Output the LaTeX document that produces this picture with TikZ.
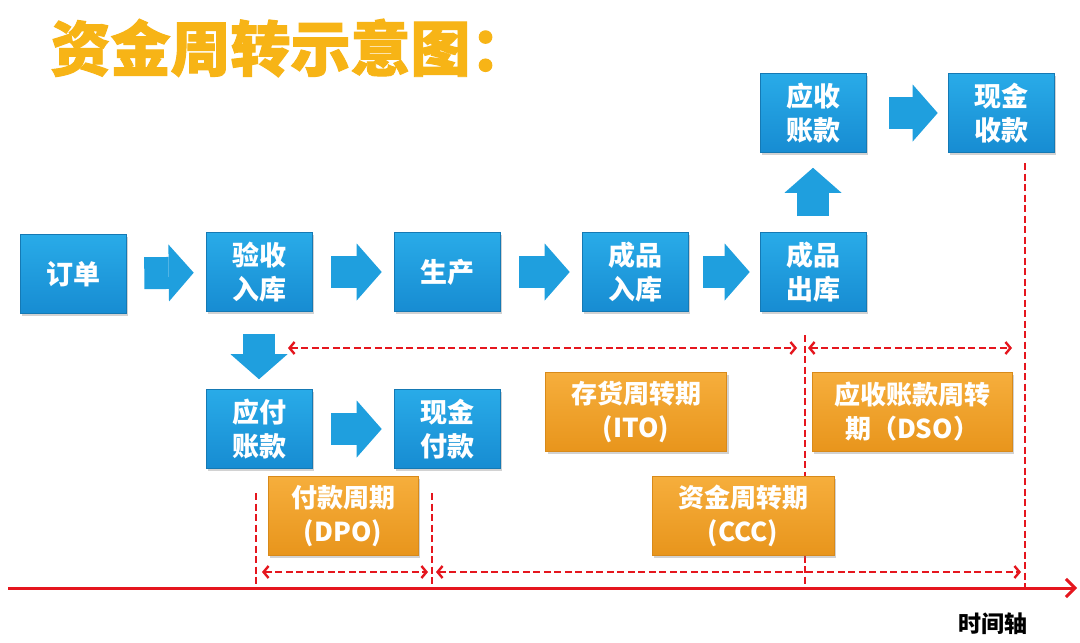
\documentclass[tikz,border=0pt]{standalone}
\usepackage{fontspec}
\setmainfont{Noto Sans CJK SC}
\newfontfamily\titlefont{Noto Sans CJK SC}[BoldFeatures={FakeBold=1.6}]
\usetikzlibrary{arrows.meta,shadows}
\definecolor{blueTop}{HTML}{29ABE8}
\definecolor{blueBot}{HTML}{178CD2}
\definecolor{blueEdge}{HTML}{1579B4}
\definecolor{arrowBlue}{HTML}{1F9FDE}
\definecolor{orTop}{HTML}{F6AE3C}
\definecolor{orBot}{HTML}{E8951C}
\definecolor{orEdge}{HTML}{D88A1A}
\definecolor{redLine}{HTML}{E5161E}
\definecolor{titleGold}{HTML}{F7B416}
\begin{document}
\begin{tikzpicture}[x=1pt,y=-1pt,
  bluebox/.style={rectangle, minimum width=106pt, minimum height=79pt, inner sep=0pt,
    top color=blueTop, bottom color=blueBot, draw=blueEdge, line width=0.6pt,
    text=white, font=\bfseries\fontsize{27}{34}\selectfont, align=center,
    drop shadow={shadow xshift=2pt, shadow yshift=-2.5pt, opacity=0.35}},
  orbox/.style={rectangle, minimum height=79pt, inner sep=0pt,
    top color=orTop, bottom color=orBot, draw=orEdge, line width=0.6pt,
    text=white, font=\bfseries\fontsize{26}{34}\selectfont, align=center,
    drop shadow={shadow xshift=2pt, shadow yshift=-2.5pt, opacity=0.35}},
  blockarr/.style={draw=arrowBlue, line width=32pt,
    -{Triangle[width=57pt,length=25pt,line width=0pt]}},
  span/.style={draw=redLine, line width=2.4pt, dash pattern=on 7pt off 3.5pt,
    {Straight Barb[length=5pt,width=12pt,line width=2.4pt]}-{Straight Barb[length=5pt,width=12pt,line width=2.4pt]}},
  vmark/.style={draw=redLine, line width=2.4pt, dash pattern=on 7pt off 3.5pt},
  axisline/.style={draw=redLine, line width=3pt, -{Straight Barb[length=9pt,width=18pt,line width=3pt]}}
]
\useasboundingbox (0,0) rectangle (1080,643);
\fill[white] (0,0) rectangle (1080,643);

% title
\node[anchor=west, text=titleGold, font=\titlefont\bfseries\fontsize{60}{62}\selectfont] (title) at (47,48) {资金周转示意图：};

% blue boxes
\node[bluebox] (order)   at (73,274)   {订单};
\node[bluebox] (yanshou) at (259,272)  {验收\\入库};
\node[bluebox] (produce) at (447,272)  {生产};
\node[bluebox] (finin)   at (635,272)  {成品\\入库};
\node[bluebox] (finout)  at (813,272)  {成品\\出库};
\node[bluebox] (ar)      at (813,113)  {应收\\账款};
\node[bluebox] (cashin)  at (1001,113) {现金\\收款};
\node[bluebox] (ap)      at (259,429)  {应付\\账款};
\node[bluebox] (cashout) at (447,429)  {现金\\付款};

% block arrows
\draw[blockarr, shorten <=18pt, shorten >=12pt] (order) -- (yanshou);
\draw[blockarr, shorten <=19pt, shorten >=12pt] (yanshou) -- (produce);
\draw[blockarr, shorten <=19pt, shorten >=12pt] (produce) -- (finin);
\draw[blockarr, shorten <=15pt, shorten >=10pt] (finin) -- (finout);
\draw[blockarr, shorten <=22pt, shorten >=10pt] (yanshou) -- (ap);
\draw[blockarr, shorten <=16pt, shorten >=15pt] (finout) -- (ar);
\draw[blockarr, shorten <=19pt, shorten >=12pt] (ap) -- (cashout);
\draw[blockarr, shorten <=23pt, shorten >=10pt] (ar) -- (cashin);

% coordinates
\coordinate (itoL) at (288,348);
\coordinate (itoR) at (797,348);
\coordinate (dsoL) at (808,348);
\coordinate (dsoR) at (1012,348);
\coordinate (m1t) at (805,335);
\coordinate (m1b) at (805,588);
\coordinate (m2t) at (1025,163);
\coordinate (m2b) at (1025,588);
\coordinate (m3t) at (256,493);
\coordinate (m3b) at (256,588);
\coordinate (m4t) at (432,493);
\coordinate (m4b) at (432,588);
\coordinate (dpoL) at (262,572);
\coordinate (dpoR) at (428,572);
\coordinate (cccL) at (436,572);
\coordinate (cccR) at (1021,572);
\coordinate (axL) at (8,588);
\coordinate (axR) at (1077,588);

% marks (behind the orange boxes)
\draw[vmark] (m1t) -- (m1b);
\draw[vmark] (m2t) -- (m2b);
\draw[vmark] (m3t) -- (m3b);
\draw[vmark] (m4t) -- (m4b);

% orange boxes
\node[orbox, minimum width=181pt] (ito) at (636,412) {存货周转期\\(ITO)};
\node[orbox, minimum width=200pt] (dso) at (912,412) {应收账款周转\\期（DSO）};
\node[orbox, minimum width=150pt] (dpo) at (343,516) {付款周期\\(DPO)};
\node[orbox, minimum width=182pt] (ccc) at (743,516) {资金周转期\\(CCC)};

% spans
\draw[span] (itoL) -- (itoR);
\draw[span] (dsoL) -- (dsoR);
\draw[span] (dpoL) -- (dpoR);
\draw[span] (cccL) -- (cccR);

% axis
\draw[axisline] (axL) -- (axR);
\node[font=\bfseries\fontsize{23}{25}\selectfont] (axlabel) at (993,624) {时间轴};
\end{tikzpicture}
\end{document}
